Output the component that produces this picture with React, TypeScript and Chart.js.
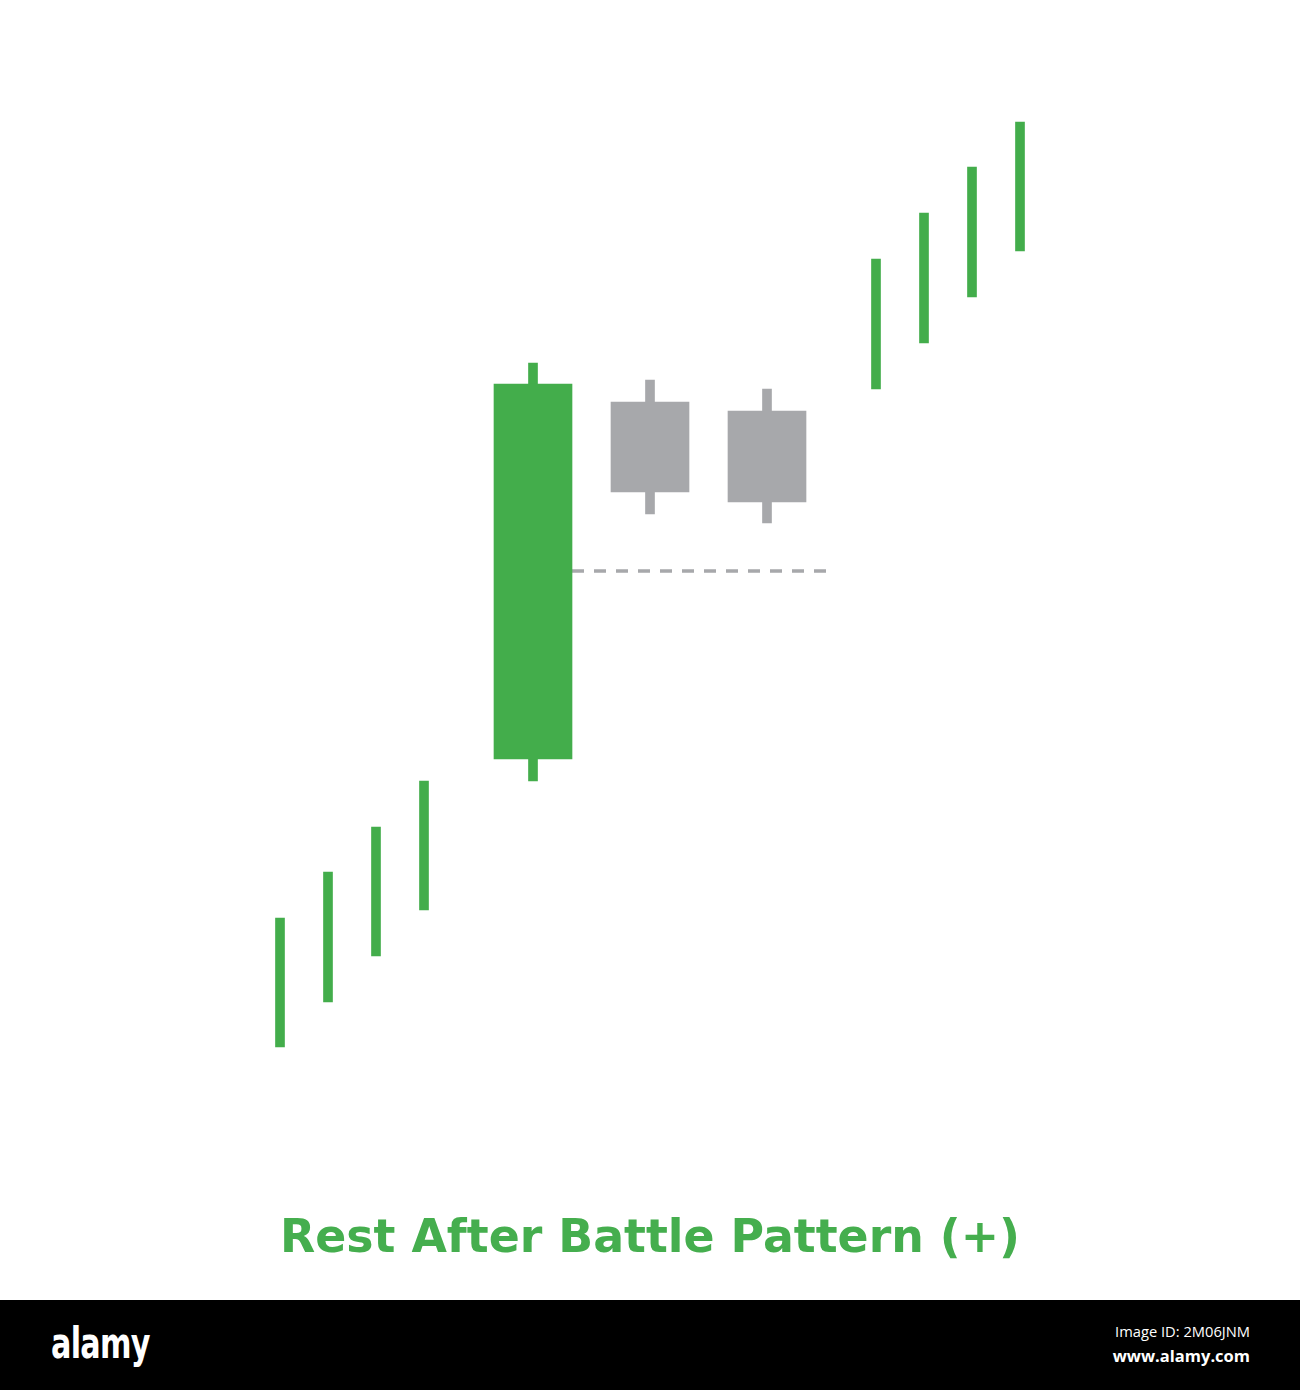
import React, { useEffect, useRef } from "react";
import { Chart, registerables } from "chart.js";

Chart.register(...registerables);

// Session positions (time axis units) of each candle
const candleTimes = [28.0, 32.8, 37.6, 42.4, 53.3, 65.0, 76.7, 87.6, 92.4, 97.2, 102.0];
// Price extremes of each candle
const highs = [38.2, 42.8, 47.3, 51.9, 93.7, 92.0, 91.1, 104.1, 108.7, 113.3, 117.8];
const lows = [25.3, 29.8, 34.4, 39.0, 51.9, 78.6, 77.7, 91.1, 95.7, 100.3, 104.9];
// Bodies (only the pattern candles have a drawn body)
const opens: (number | null)[] = [null, null, null, null, 54.1, 80.8, 79.8, null, null, null, null];
const closes: (number | null)[] = [null, null, null, null, 91.6, 89.8, 88.9, null, null, null, null];
// Role of each candle in the pattern
const candleRoles = ["trend", "trend", "trend", "trend", "battle", "rest", "rest", "trend", "trend", "trend", "trend"];
// Midpoint level of the battle candle, drawn as a dashed reference line
const levelTimes = [57.2, 83.2];
const levelValue = 72.9;

const titleText = "Rest After Battle Pattern (+)";

const GREEN = "#43ad4b";
const GRAY = "#a7a8ab";
const roleColor = (role: string) => (role === "rest" ? GRAY : GREEN);

export default function App() {
  const canvasRef = useRef<HTMLCanvasElement | null>(null);

  useEffect(() => {
    if (!canvasRef.current) return;
    const colors = candleRoles.map(roleColor);
    const chart = new Chart(canvasRef.current, {
      type: "bar",
      data: {
        datasets: [
          {
            type: "line",
            label: "level",
            data: levelTimes.map((t) => ({ x: t, y: levelValue })),
            borderColor: GRAY,
            borderWidth: 3.5,
            borderDash: [12, 10],
            pointRadius: 0,
            fill: false,
            order: 3,
          } as any,
          {
            label: "bodies",
            data: candleTimes.map((t, i) =>
              opens[i] == null || closes[i] == null ? { x: t, y: null } : { x: t, y: [opens[i], closes[i]] }
            ),
            backgroundColor: colors,
            borderWidth: 0,
            barThickness: 78,
            grouped: false,
            order: 1,
          } as any,
          {
            label: "wicks",
            data: candleTimes.map((t, i) => ({ x: t, y: [lows[i], highs[i]] })),
            backgroundColor: colors,
            borderWidth: 0,
            barThickness: 9,
            grouped: false,
            order: 2,
          } as any,
        ],
      },
      options: {
        responsive: false,
        animation: false,
        devicePixelRatio: 1,
        layout: { padding: 0 },
        plugins: {
          legend: { display: false },
          tooltip: { enabled: false },
          title: { display: false },
        },
        scales: {
          x: { type: "linear", min: 0, max: 130, offset: false, display: false },
          y: { type: "linear", min: 0, max: 130, offset: false, display: false },
        },
      },
    });
    return () => chart.destroy();
  }, []);

  return (
    <div style={{ position: "absolute", left: 0, top: 0, width: 1300, height: 1390, background: "#fff", overflow: "hidden" }}>
      <canvas ref={canvasRef} width={1300} height={1300} style={{ position: "absolute", left: 0, top: 0, width: 1300, height: 1300 }} />
      <div
        style={{
          position: "absolute",
          left: 0,
          top: 1209,
          width: 1300,
          textAlign: "center",
          fontFamily: "'DejaVu Sans', Verdana, sans-serif",
          fontWeight: "bold",
          fontSize: 45.8,
          color: "#45ae4e",
          whiteSpace: "nowrap",
        }}
      >
        {titleText}
      </div>
      <div style={{ position: "absolute", left: 0, top: 1300, width: 1300, height: 90, background: "#000" }}>
        <div
          style={{
            position: "absolute",
            left: 51,
            top: 19,
            fontFamily: "'DejaVu Sans', sans-serif",
            fontWeight: "bold",
            fontSize: 42,
            color: "#fff",
            transform: "scaleX(0.72)",
            transformOrigin: "left top",
            whiteSpace: "nowrap",
            letterSpacing: -1,
          }}
        >
          alamy
        </div>
        <div
          style={{
            position: "absolute",
            right: 50,
            top: 21,
            fontFamily: "'Open Sans', sans-serif",
            fontSize: 14.7,
            color: "#fff",
            whiteSpace: "nowrap",
          }}
        >
          Image ID: 2M06JNM
        </div>
        <div
          style={{
            position: "absolute",
            right: 50,
            top: 44,
            fontFamily: "'Open Sans', sans-serif",
            fontWeight: "bold",
            fontSize: 16.5,
            color: "#fff",
            whiteSpace: "nowrap",
          }}
        >
          www.alamy.com
        </div>
      </div>
    </div>
  );
}
